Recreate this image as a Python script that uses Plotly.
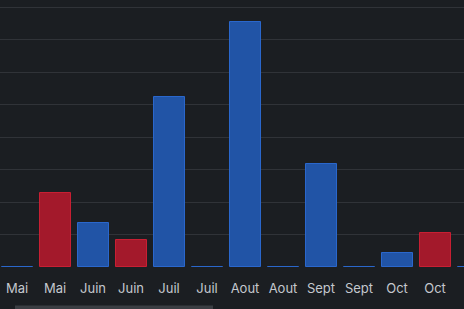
import plotly.graph_objects as go

labels = ["Mai", "Mai", "Juin", "Juin", "Juil", "Juil", "Aout", "Aout",
          "Sept", "Sept", "Oct", "Oct", "Nov"]
values = [0, 228, 136, 84, 524, 0, 755, 0, 318, 0, 44, 106, 0]
series = ["b", "r", "b", "r", "b", "b", "b", "b", "b", "b", "b", "r", "b"]

FILL = {"b": "#2154a6", "r": "#a3192b"}
EDGE = {"b": "#2a67cc", "r": "#c81f33"}

W, H = 464, 309
BOTTOM = 42
plot_h = H - BOTTOM
grid_px = 32.5
step = 100

xs = list(range(len(labels)))
slot = 38.0
first_center = 17.0

fig = go.Figure()
fig.add_trace(go.Bar(
    x=xs, y=values, width=31 / slot,
    marker=dict(color=[FILL[s] for s in series],
                line=dict(color=[EDGE[s] for s in series], width=1)),
    hoverinfo="skip",
))

x0 = -first_center / slot
x1 = x0 + W / slot
visible = [i for i in xs if x0 <= i <= x1]

fig.update_layout(
    width=W, height=H,
    margin=dict(l=0, r=0, t=0, b=BOTTOM, pad=0),
    paper_bgcolor="#1b1e22", plot_bgcolor="#1b1e22",
    showlegend=False,
    bargap=0,
    font=dict(family="Inter", size=13, color="#c4c8ce"),
    xaxis=dict(range=[x0, x1], tickmode="array",
               tickvals=visible, ticktext=[labels[i] for i in visible],
               showgrid=False, zeroline=False, showline=False,
               ticks="outside", ticklen=9, tickcolor="rgba(0,0,0,0)",
               fixedrange=True),
    yaxis=dict(range=[0, plot_h / grid_px * step], dtick=step,
               showticklabels=False, gridcolor="#303338", gridwidth=1,
               zeroline=False, showline=False, fixedrange=True),
)

# partially visible label at the right edge
last = len(labels) - 1
fig.add_annotation(x=last, xref="x", y=0, yref="paper", yshift=-21,
                   text=labels[last], showarrow=False,
                   font=dict(family="Inter", size=13, color="#c4c8ce"))

# horizontal scrollbar thumb
fig.add_shape(type="rect", xref="paper", yref="paper",
              x0=15 / W, x1=213 / W,
              y0=(plot_h - 309) / plot_h, y1=(plot_h - 305.5) / plot_h,
              fillcolor="#3b3e43", line=dict(width=0))

fig.write_html("out.html", config={"displayModeBar": False})
